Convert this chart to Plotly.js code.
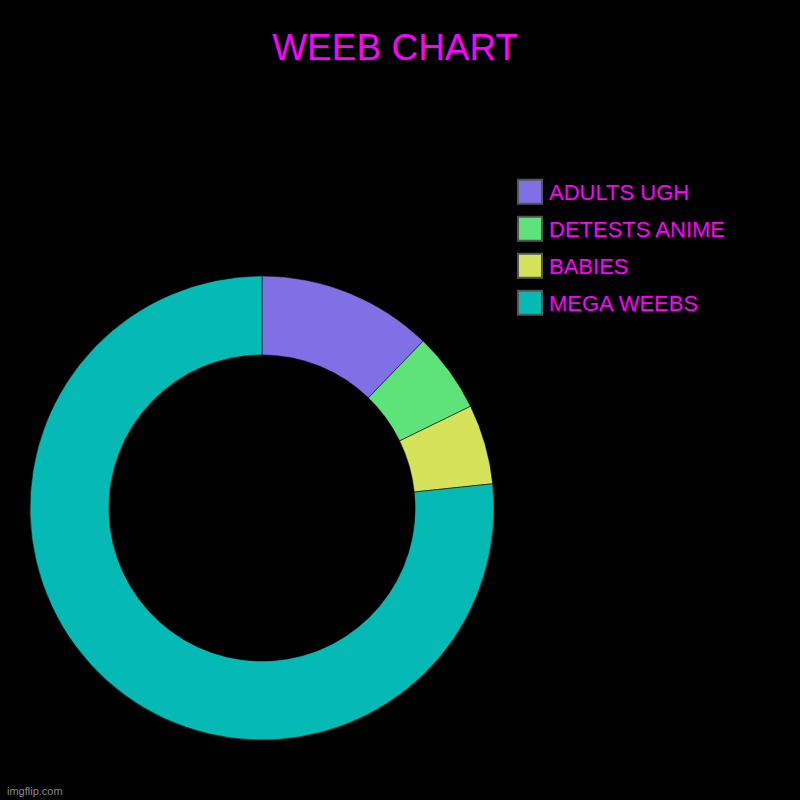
<!DOCTYPE html>
<html>
<head>
<meta charset="utf-8">
<script src="https://cdn.plot.ly/plotly-3.0.1.min.js"></script>
<style>html,body{margin:0;padding:0;background:#000;}</style>
</head>
<body>
<div id="chart" style="width:800px;height:800px;"></div>
<script>
const labels = ["ADULTS UGH", "DETESTS ANIME", "BABIES", "MEGA WEEBS"];
const values = [11, 5, 5, 69];
const colors = ["#8070e6", "#5ee27a", "#d4e359", "#05b9b5"];
const titleText = "WEEB CHART";
const watermark = "imgflip.com";

const data = [{
  type: "pie",
  labels: labels,
  values: values,
  hole: 0.66,
  sort: false,
  direction: "clockwise",
  rotation: 0,
  textinfo: "none",
  marker: {colors: colors, line: {width: 0.5, color: "#000"}},
  domain: {x: [0.0375, 0.6175], y: [0.075, 0.655]}
}];

const layout = {
  width: 800, height: 800,
  paper_bgcolor: "#000", plot_bgcolor: "#000",
  margin: {l: 0, r: 0, t: 0, b: 0},
  font: {family: "Liberation Sans, Arial, sans-serif", color: "#ff00ff"},
  title: {text: titleText, font: {size: 37, color: "#ff00ff"}, x: 0.494, xanchor: "center", y: 1 - 47/800, yanchor: "middle"},
  showlegend: true,
  legend: {x: 509/800, xanchor: "left", y: 1 - 171/800, yanchor: "top", font: {size: 22, color: "#ff00ff"}, bgcolor: "rgba(0,0,0,0)", traceorder: "normal"},
  annotations: [{text: watermark, x: 5/800, y: 9/800, xref: "paper", yref: "paper", xanchor: "left", yanchor: "middle", showarrow: false, font: {size: 11, color: "#888"}}]
};

Plotly.newPlot("chart", data, layout, {displayModeBar: false, staticPlot: true}).then(function(){
  document.querySelectorAll(".legend .scrollbox").forEach(function(s){ s.removeAttribute("clip-path"); });
  const items = document.querySelectorAll(".legend .traces");
  let first = null;
  items.forEach(function(g, i){
    const m = /translate\(\s*([-\d.]+)[ ,]+([-\d.]+)\s*\)/.exec(g.getAttribute("transform") || "");
    const x = m ? parseFloat(m[1]) : 0;
    const y = m ? parseFloat(m[2]) : 0;
    if (first === null) first = y;
    g.setAttribute("transform", "translate(" + x + "," + (first + i * 37) + ")");
  });
  document.querySelectorAll(".legendpoints path").forEach(function(p){
    p.removeAttribute("transform");
    p.setAttribute("d", "M33,12H9V-12H33Z");
    p.style.stroke = "#555";
    p.style.strokeWidth = "2px";
  });
});
</script>
</body>
</html>
